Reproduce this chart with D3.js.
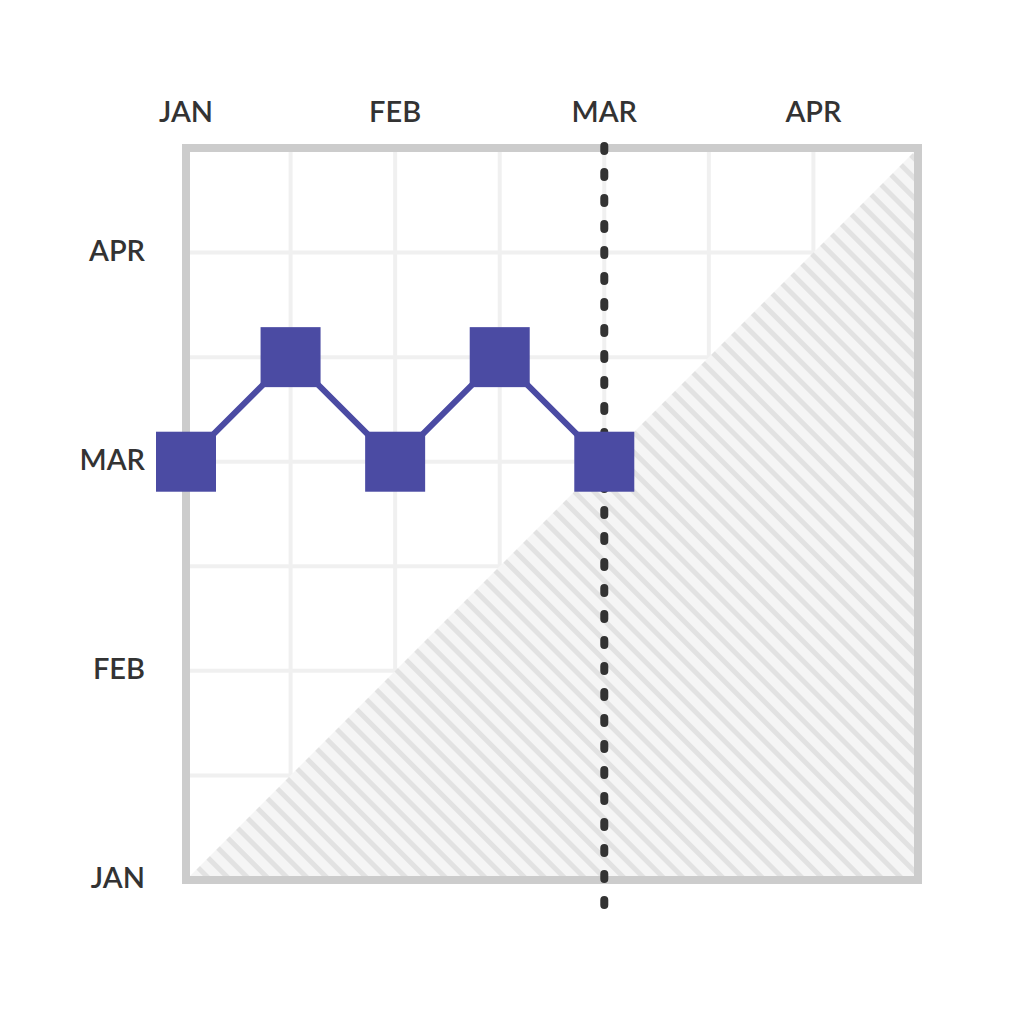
<!DOCTYPE html>
<html>
<head>
<meta charset="utf-8">
<script src="https://cdn.jsdelivr.net/npm/d3@7"></script>
<style>
  html, body { margin: 0; padding: 0; background: #fff; }
  text { font-family: Lato, "Open Sans", sans-serif; font-weight: 600; fill: #333; }
</style>
</head>
<body>
<div id="chart"></div>
<script>
// month ticks on both axes (value = position on the 0..7 grid)
var monthLabels = ['JAN', 'FEB', 'MAR', 'APR'];
var monthValues = [0, 2, 4, 6];
var gridValues = [1, 2, 3, 4, 5, 6];

// series: x position vs y position
var pointX = [0, 1, 2, 3, 4];
var pointY = [4, 5, 4, 5, 4];

// hatched area below the diagonal
var areaX = [0, 7, 7];
var areaY = [0, 7, 0];

// current-date marker
var markerX = 4;

var width = 1024;
var height = 1024;
var plotLeft = 186, plotRight = 918, plotTop = 148, plotBottom = 880;

var svg = d3.select('#chart')
  .append('svg')
  .attr('width', width)
  .attr('height', height);

var x = d3.scaleLinear().domain([0, 7]).range([plotLeft, plotRight]);
var y = d3.scaleLinear().domain([0, 7]).range([plotBottom, plotTop]);

// stripe pattern
var defs = svg.append('defs');
var pattern = defs.append('pattern')
  .attr('id', 'hatch')
  .attr('patternUnits', 'userSpaceOnUse')
  .attr('width', 14)
  .attr('height', 14)
  .attr('patternTransform', 'rotate(-45)');
pattern.append('rect')
  .attr('width', 14)
  .attr('height', 14)
  .attr('fill', '#f5f5f5');
pattern.append('rect')
  .attr('width', 5)
  .attr('height', 14)
  .attr('fill', '#e2e2e2');

// grid
var grid = svg.append('g').attr('class', 'grid');

grid.selectAll('line.v')
  .data(gridValues)
  .enter()
  .append('line')
  .attr('class', 'v')
  .attr('x1', function (d) { return x(d); })
  .attr('x2', function (d) { return x(d); })
  .attr('y1', plotTop)
  .attr('y2', plotBottom)
  .attr('stroke', '#f0f0f0')
  .attr('stroke-width', 4);

grid.selectAll('line.h')
  .data(gridValues)
  .enter()
  .append('line')
  .attr('class', 'h')
  .attr('x1', plotLeft)
  .attr('x2', plotRight)
  .attr('y1', function (d) { return y(d); })
  .attr('y2', function (d) { return y(d); })
  .attr('stroke', '#f0f0f0')
  .attr('stroke-width', 4);

// hatched triangle
var areaPts = areaX.map(function (d, i) { return [x(d), y(areaY[i])]; });
svg.append('path')
  .attr('d', d3.line()(areaPts) + 'Z')
  .attr('fill', 'url(#hatch)');

// frame
svg.append('rect')
  .attr('x', plotLeft)
  .attr('y', plotTop)
  .attr('width', plotRight - plotLeft)
  .attr('height', plotBottom - plotTop)
  .attr('fill', 'none')
  .attr('stroke', '#cccccc')
  .attr('stroke-width', 8);

// axis labels
svg.append('g')
  .selectAll('text')
  .data(monthLabels)
  .enter()
  .append('text')
  .text(function (d) { return d; })
  .attr('x', function (d, i) { return x(monthValues[i]); })
  .attr('y', 122)
  .attr('text-anchor', 'middle')
  .attr('font-size', 29);

svg.append('g')
  .selectAll('text')
  .data(monthLabels)
  .enter()
  .append('text')
  .text(function (d) { return d; })
  .attr('x', 145)
  .attr('y', function (d, i) { return y(monthValues[i]) - 2; })
  .attr('dy', '0.35em')
  .attr('text-anchor', 'end')
  .attr('font-size', 29);

// series line
var pts = pointX.map(function (d, i) { return [x(d), y(pointY[i])]; });
svg.append('path')
  .attr('d', d3.line()(pts))
  .attr('fill', 'none')
  .attr('stroke', '#4b4ba3')
  .attr('stroke-width', 6);

// marker line
svg.append('line')
  .attr('x1', x(markerX))
  .attr('x2', x(markerX))
  .attr('y1', plotTop - 2)
  .attr('y2', plotBottom + 26)
  .attr('stroke', '#333')
  .attr('stroke-width', 8)
  .attr('stroke-linecap', 'round')
  .attr('stroke-dasharray', '5,21');

// squares
svg.append('g')
  .selectAll('rect')
  .data(pts)
  .enter()
  .append('rect')
  .attr('x', function (d) { return d[0] - 30; })
  .attr('y', function (d) { return d[1] - 30; })
  .attr('width', 60)
  .attr('height', 60)
  .attr('fill', '#4b4ba3');
</script>
</body>
</html>
